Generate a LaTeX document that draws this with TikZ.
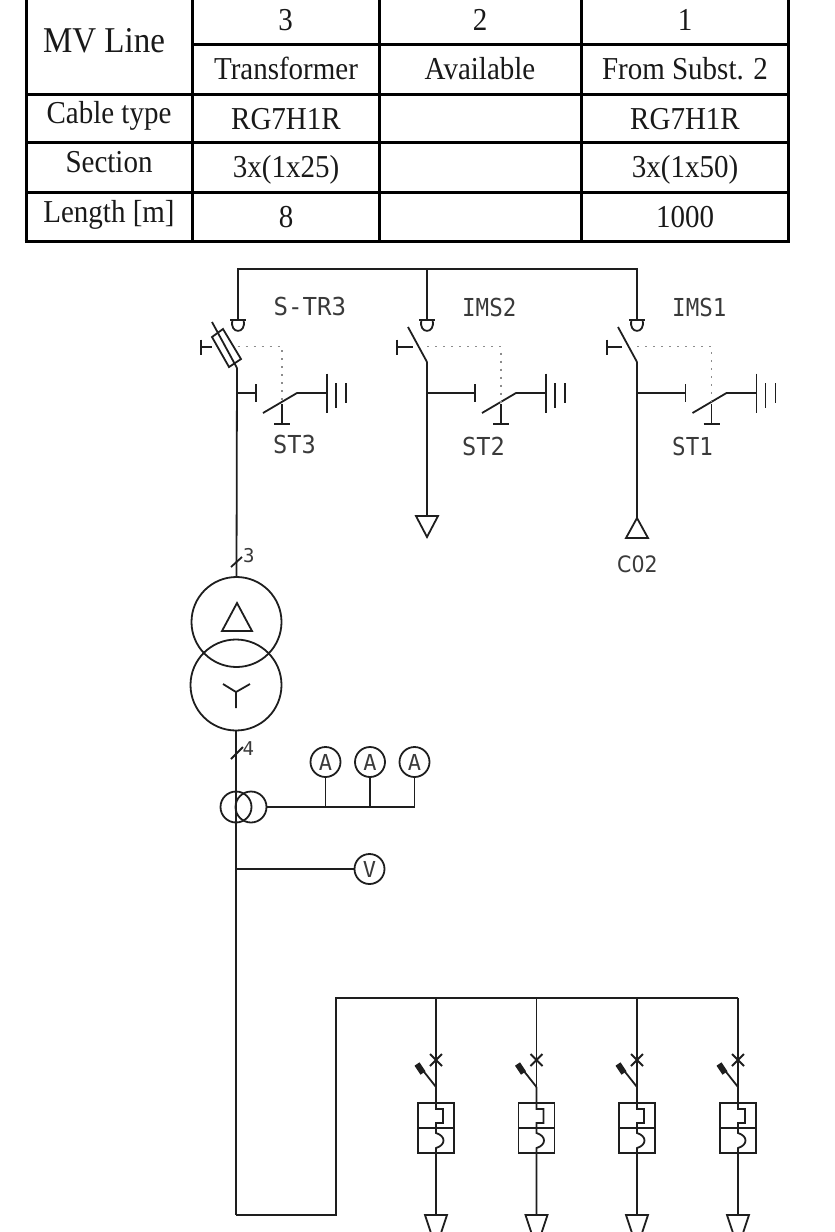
\documentclass[tikz,border=0pt]{standalone}
\usepackage{fontspec}
\setmainfont{Liberation Serif}
\newfontfamily\cadfont{DejaVu Sans Mono}
\newfontfamily\cadalt{DejaVu Sans}
\definecolor{ink}{HTML}{1E1E1E}
\definecolor{cadtext}{HTML}{3A3A3A}
\tikzset{
  tbl/.style={line width=3pt,black},
  cell/.style={anchor=base,inner sep=0pt,font=\fontsize{29}{32}\selectfont,text=black!90,yscale=1.1,transform shape},
  wire/.style={line width=1.8pt,ink},
  bus/.style={line width=2pt,ink},
  link/.style={line width=1.5pt,black!45,dash pattern=on 2pt off 6pt},
  cadlabel/.style={anchor=base west,inner sep=0pt,font=\cadfont\fontsize{22.5}{24}\selectfont,text=cadtext,yscale=1.1,transform shape},
  ticklabel/.style={anchor=base west,inner sep=0pt,font=\cadfont\fontsize{19}{20}\selectfont,text=cadtext},
  meter/.style={circle,draw=ink,line width=1.8pt,minimum size=30pt,inner sep=0pt,font=\cadfont\fontsize{22}{22}\selectfont,text=cadtext},
  winding/.style={circle,draw=ink,line width=1.8pt,inner sep=0pt,fill=none}
}
\newcommand{\earthset}[2]{%
  % #1 = x of branch end bar ; #2 = x of the main line
  \draw[wire] (#2,393) -- (#1,393);
  \draw[wire] (#1,384) -- (#1,402);
  \draw[wire] (#1+7,413) -- (#1+41,393) -- (#1+71,393);
  \draw[wire] (#1+71,373.5) -- (#1+71,413);
  \draw[wire] (#1+80,383) -- (#1+80,408);
  \draw[wire] (#1+90,383) -- (#1+90,403);
  \draw[wire] (#1+26,404) -- (#1+26,424);
  \draw[wire] (#1+18,424) -- (#1+34,424);
  \draw[link] (#2,346.5) -- (#1+26,346.5) -- (#1+26,403);
}
\newcommand{\terminal}[1]{%
  \draw[wire] (#1-8,320) -- (#1+8,320);
  \draw[wire] (#1-5.5,320) .. controls (#1-9,334.5) and (#1+9,334.5) .. (#1+5.5,320);
}
\newcommand{\handle}[2]{%
  % #1 = x of vertical bar, #2 = x of end on the blade
  \draw[wire] (#1,347) -- (#2,347);
  \draw[wire] (#1,339.5) -- (#1,354.5);
}
\begin{document}
\begin{tikzpicture}[x=1pt,y=-1pt]
\useasboundingbox (0,0) rectangle (835,1232);
% ---------- table
\draw[tbl] (26,0) -- (26,241) (192,0) -- (192,241) (379,0) -- (379,241) (581,0) -- (581,241) (788.5,0) -- (788.5,241);
\draw[tbl] (192,44) -- (788.5,44);
\draw[tbl] (26,94) -- (788.5,94) (26,142.5) -- (788.5,142.5) (26,192) -- (788.5,192);
\draw[tbl] (24.5,241) -- (790,241);
\node[cell,font=\fontsize{33}{36}\selectfont] (tMV) at (104,52) {MV Line};
\node[cell] (t3) at (285.5,30) {3};
\node[cell] (t2) at (480,30) {2};
\node[cell] (t1) at (685,30) {1};
\node[cell] (tTr) at (286,79) {Transformer};
\node[cell] (tAv) at (480,79) {Available};
\node[cell] (tFr) at (685,79) {From Subst. 2};
\node[cell] (tCa) at (109,123) {Cable type};
\node[cell] (tR3) at (286,129) {RG7H1R};
\node[cell] (tR1) at (685,129) {RG7H1R};
\node[cell] (tSe) at (109,172) {Section};
\node[cell] (tS3) at (286,177) {3x(1x25)};
\node[cell] (tS1) at (685,177) {3x(1x50)};
\node[cell] (tLe) at (109,222) {Length [m]};
\node[cell] (tL3) at (286,227) {8};
\node[cell] (tL1) at (685,227) {1000};
% ---------- MV bus
\coordinate (busL) at (238,269);
\coordinate (busM) at (427,269);
\coordinate (busR) at (637,269);
\coordinate (inL) at (238,320);
\coordinate (inM) at (427,320);
\coordinate (inR) at (637,320);
\draw[bus] (inL) -- (busL) -- (busR) -- (inR);
\draw[bus] (busM) -- (inM);
\terminal{238}\terminal{427}\terminal{637}
% S-TR3 fuse switch
\draw[wire] (212,322) -- (237,368);
\draw[wire] (212,337) -- (223,329) -- (241,359) -- (229,367) -- cycle;
\handle{201}{212}
\earthset{256}{237.5}
% IMS2
\draw[wire] (408,327) -- (427,362);
\handle{397}{413}
\earthset{475}{427}
% IMS1
\draw[wire] (618,327) -- (637,362);
\handle{607}{622}
\earthset{685.5}{637}
% outgoing lines
\coordinate (ims2out) at (427,362);
\coordinate (ims2tri) at (427,516);
\coordinate (ims1out) at (637,362);
\coordinate (ims1tri) at (637,518);
\draw[wire] (ims2out) -- (ims2tri);
\draw[wire] (ims1out) -- (ims1tri);
\draw[wire] (416,516) -- (438,516) -- (427,537) -- cycle;
\draw[wire] (626,538) -- (648,538) -- (637,518) -- cycle;
% labels
\node[cadlabel,xscale=1.07] (lSTR3) at (273.5,315) {S-TR3};
\node[cadlabel] (lIMS2) at (462,316) {IMS2};
\node[cadlabel] (lIMS1) at (672,316) {IMS1};
\node[cadlabel,xscale=1.05] (lST3) at (273,453) {ST3};
\node[cadlabel,xscale=1.05] (lST2) at (462,455) {ST2};
\node[cadlabel] (lST1) at (672,455) {ST1};
\node[cadlabel,font=\cadalt\fontsize{20.5}{24}\selectfont] (lC02) at (617,572) {C02};
% ---------- transformer
\node[winding,minimum size=90pt] (tp) at (236.5,622) {};
\node[winding,minimum size=91pt] (ts) at (236,685) {};
\coordinate (fuseOut) at (237,368);
\draw[wire] (fuseOut) -- (tp.north);
\draw[wire] (231,567) -- (242,557);
\node[ticklabel] (l3) at (243,562) {3};
\draw[wire] (237,603) -- (252,631) -- (222,631) -- cycle;
\draw[wire] (236,692) -- (223,684) (236,692) -- (250,684) (236,692) -- (236,708);
\draw[wire] (231,759) -- (243,747);
\node[ticklabel] (l4) at (242.5,755) {4};
% ---------- CT and meters
\node[winding,minimum size=31pt] (ct1) at (236,807) {};
\node[winding,minimum size=31pt] (ct2) at (251,807) {};
\node[meter] (a1) at (325.5,762) {A};
\node[meter] (a2) at (370,762) {A};
\node[meter] (a3) at (414.5,762) {A};
\node[meter] (vm) at (369.5,869) {V};
\coordinate (ctbus) at (414.5,807);
\coordinate (lv) at (236,869);
\coordinate (lvb) at (236,1215);
\coordinate (lvc) at (336,1215);
\coordinate (bb1) at (336,998);
\coordinate (bb2) at (738,998);
\draw[wire] (ts.south) -- (lvb);
\draw[wire] (ct2.east) -- (ctbus) -- (a3.south);
\draw[wire] (a1.south) -- (a1.south |- ctbus);
\draw[wire] (a2.south) -- (a2.south |- ctbus);
\draw[wire] (lv) -- (vm.west);
\draw[bus] (lvb) -- (lvc) -- (bb1) -- (bb2);
% ---------- LV feeders
\foreach \n/\x in {1/436,2/536.5,3/637,4/738}{
  \coordinate (f\n) at (\x,998);
  \coordinate (g\n) at (\x,1087);
  \draw[wire] (f\n) -- (g\n);
  \draw[wire] (\x-6,1054) -- (\x+6,1066) (\x+6,1054) -- (\x-6,1066);
  \draw[wire] (g\n) -- (\x-15,1068);
  \draw[line width=6pt,ink] (\x-19,1064) -- (\x-13,1073);
  \draw[wire] (\x-18,1103) rectangle (\x+18,1153);
  \draw[wire] (\x-18,1128) -- (\x+18,1128);
  \draw[wire] (g\n) -- (\x,1109) -- (\x+7,1109) -- (\x+7,1123) -- (\x,1123) -- (\x,1133)
     .. controls (\x+10,1136) and (\x+10,1145) .. (\x,1148) -- (\x,1215);
  \draw[wire] (\x-5.3,1232) -- (\x-11,1215) -- (\x+11,1215) -- (\x+5.3,1232);
}
\end{tikzpicture}
\end{document}
